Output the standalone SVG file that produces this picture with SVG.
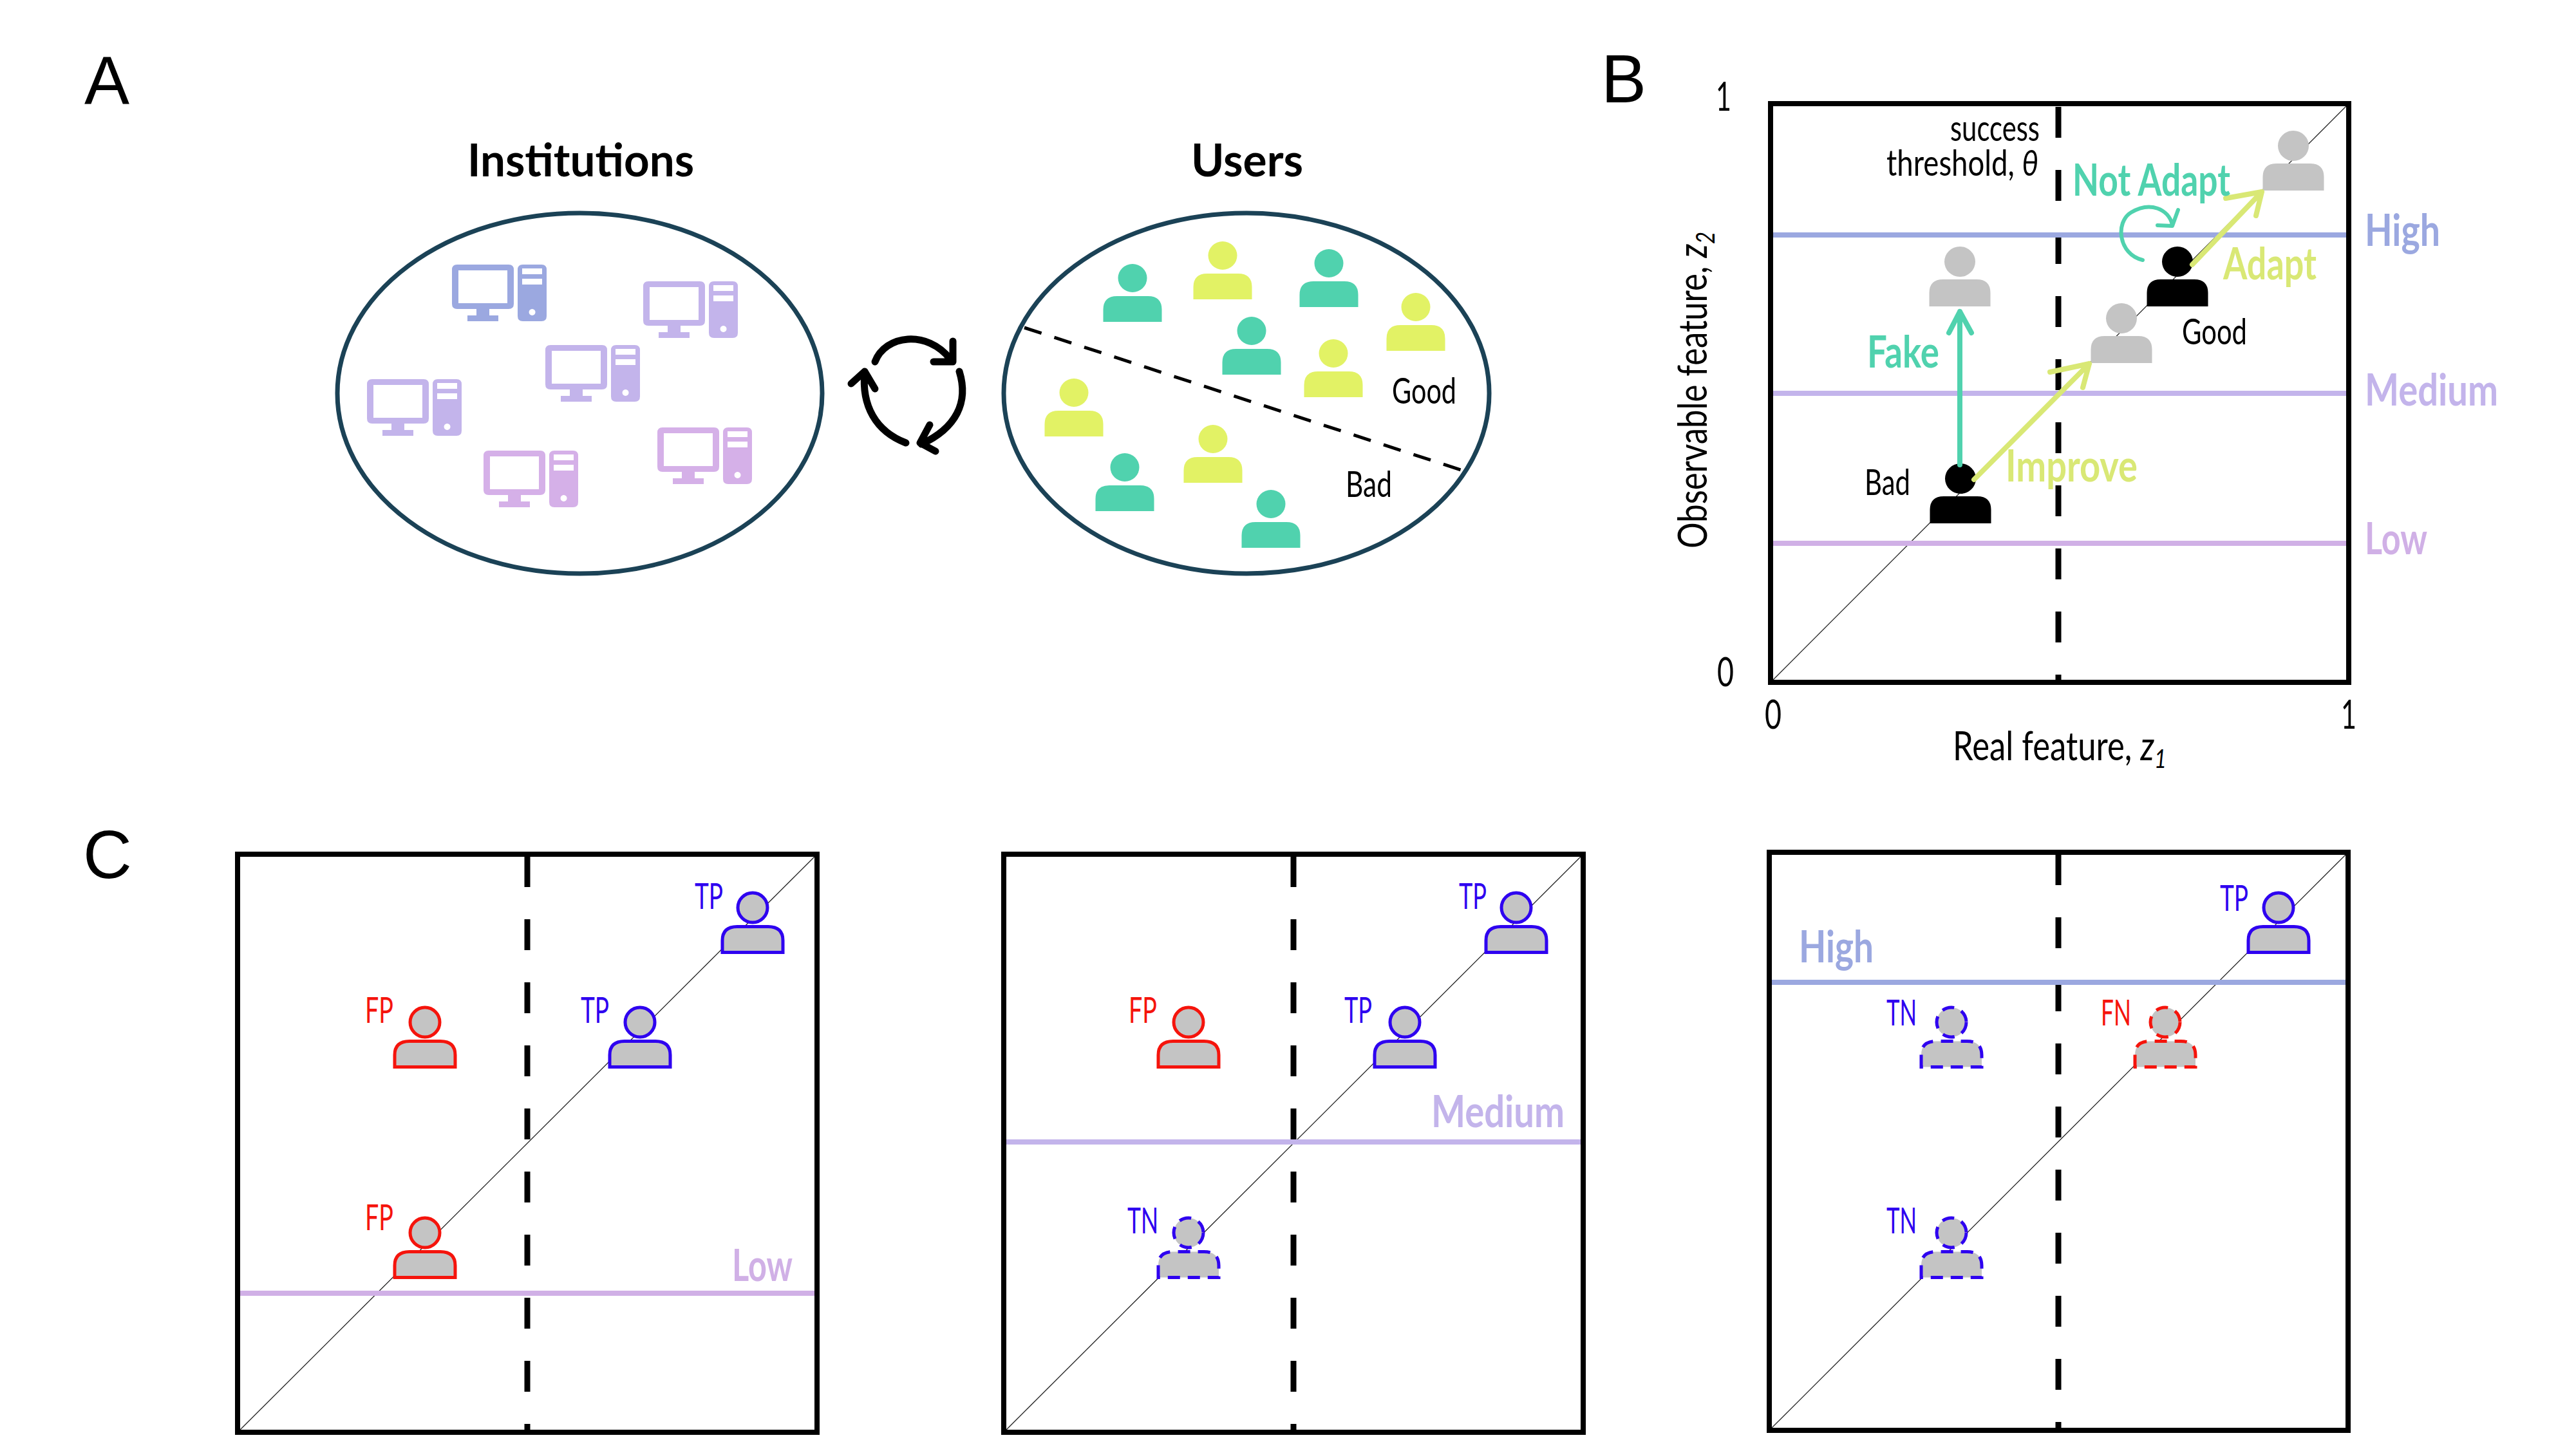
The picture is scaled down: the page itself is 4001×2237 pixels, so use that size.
<svg xmlns="http://www.w3.org/2000/svg" width="4001" height="2237" viewBox="0 0 4001 2237">
<style>
text{font-family:"Lato","Noto Sans","Liberation Sans",sans-serif;fill:#000}
.pl{font-family:"Liberation Sans",sans-serif;font-size:105px}
.h{font-size:70px;font-weight:700}
.s{font-size:56px}
.b{font-size:68px;font-weight:700}
.m{font-size:62px}
.c{font-size:57px}
.frame{fill:none;stroke:#000;stroke-width:8}
.diag{stroke:#222;stroke-width:1.3;fill:none}
.thr{stroke:#000;stroke-width:9;fill:none;stroke-dasharray:48 50}
.lh{stroke:#9BA8E0;stroke-width:8;fill:none}
.lm{stroke:#C3B4EB;stroke-width:8;fill:none}
.ll{stroke:#D0B0E6;stroke-width:8;fill:none}
.tg{fill:#50D2AE}.ty{fill:#D9E875}.th{fill:#9BA8E0}.tm{fill:#C3B4EB}.tl{fill:#D0B0E6}
.tb{fill:#2E00F0}.tr{fill:#F5140C}
.green{fill:#50D2AE}.yellow{fill:#E2F265}.black{fill:#000}.gray{fill:#C4C4C4}
.blue{fill:#C4C4C4;stroke:#2E00F0;stroke-width:5}
.red{fill:#C4C4C4;stroke:#F5140C;stroke-width:5}
.blued{fill:#C4C4C4;stroke:#2E00F0;stroke-width:5;stroke-dasharray:19 12}
.redd{fill:#C4C4C4;stroke:#F5140C;stroke-width:5;stroke-dasharray:19 12}
.ag{fill:none;stroke:#50D2AE;stroke-width:8;stroke-linecap:round;stroke-linejoin:round}
.ay{fill:none;stroke:#D9E875;stroke-width:8;stroke-linecap:round;stroke-linejoin:round}
.cyc{fill:none;stroke:#000;stroke-width:11;stroke-linecap:round;stroke-linejoin:round}
.ell{fill:#fff;stroke:#1B4256;stroke-width:7}
</style>
<defs>
<g id="pA"><ellipse cx="0" cy="22" rx="22.5" ry="22"/><path d="M-45.500 90V71Q-45.500 50-24 50H24Q45.500 50 45.500 71V90Z"/></g>
<g id="pB"><ellipse cx="0" cy="23.500" rx="24" ry="23.500"/><path d="M-47.500 93V72Q-47.500 51-26 51H26Q47.500 51 47.500 72V93Z"/></g>
<g id="pC"><circle cx="0" cy="25" r="23"/><path d="M-47 94.500V76Q-47 54.500-24 54.500H24Q47 54.500 47 76V94.500Z"/></g>
<path id="pc" fill-rule="evenodd" d="M8 0H88Q96 0 96 8V61Q96 69 88 69H58V79H72V88H24V79H38V69H8Q0 69 0 61V8Q0 0 8 0ZM10 9V60H86V9ZM110 0H139Q147 0 147 8V80Q147 88 139 88H110Q102 88 102 80V8Q102 0 110 0ZM109 6V15H140V6ZM109 22V31H140V22ZM124.500 69a5 5 0 1 0 .1 0Z"/>
</defs>

<g id="panel-labels">
<text class="pl" x="131" y="161">A</text>
<text class="pl" x="2487" y="159">B</text>
<text class="pl" x="129" y="1364">C</text>
</g>

<g id="institutions">
<ellipse class="ell" cx="900.500" cy="611" rx="376.500" ry="280"/>
<text class="h" x="726" y="274" textLength="352" lengthAdjust="spacingAndGlyphs">Institutions</text>
<g id="computer-1"><use href="#pc" x="702" y="411" fill="#9BA8E0"/></g>
<g id="computer-2"><use href="#pc" x="999" y="437" fill="#C3B4EB"/></g>
<g id="computer-3"><use href="#pc" x="847" y="536" fill="#C3B4EB"/></g>
<g id="computer-4"><use href="#pc" x="570" y="589" fill="#C3B4EB"/></g>
<g id="computer-5"><use href="#pc" x="751" y="700" fill="#D5B0E8"/></g>
<g id="computer-6"><use href="#pc" x="1021" y="664" fill="#D5B0E8"/></g>
</g>

<g id="users">
<ellipse class="ell" cx="1936" cy="611" rx="377" ry="280"/>
<text class="h" x="1850" y="274" textLength="174" lengthAdjust="spacingAndGlyphs">Users</text>
<g id="user-1"><use href="#pA" x="1759" y="410" class="green"/></g>
<g id="user-2"><use href="#pA" x="1899" y="375" class="yellow"/></g>
<g id="user-3"><use href="#pA" x="2064" y="387" class="green"/></g>
<g id="user-4"><use href="#pA" x="2199" y="455" class="yellow"/></g>
<g id="user-5"><use href="#pA" x="1944" y="492" class="green"/></g>
<g id="user-6"><use href="#pA" x="2071" y="527" class="yellow"/></g>
<g id="user-7"><use href="#pA" x="1668" y="588" class="yellow"/></g>
<g id="user-8"><use href="#pA" x="1747" y="704" class="green"/></g>
<g id="user-9"><use href="#pA" x="1884" y="660" class="yellow"/></g>
<g id="user-10"><use href="#pA" x="1974" y="761" class="green"/></g>
<path d="M1591 509L2269 730" fill="none" stroke="#000" stroke-width="5" stroke-dasharray="28 20.900"/>
<text class="s" x="2162" y="627" textLength="100" lengthAdjust="spacingAndGlyphs">Good</text>
<text class="s" x="2090" y="772" textLength="72" lengthAdjust="spacingAndGlyphs">Bad</text>
</g>

<g id="connectors">
<path class="cyc" d="M1359 562C1375 520 1440 512 1476 558M1480 530V562H1450"/>
<path class="cyc" d="M1490 577C1505 625 1485 665 1431 690M1444 660L1429 688L1453 701"/>
<path class="cyc" d="M1407 688C1360 670 1338 630 1343 578M1322 596L1343 577L1359 604"/>
</g>

<g id="panel-b">
<path class="diag" d="M2750 1060L3648 161"/>
<path class="thr" d="M3197 166V1060"/>
<path class="lh" d="M2754 365H3644"/>
<path class="lm" d="M2754 611H3644"/>
<path class="ll" d="M2754 844H3644"/>
<rect class="frame" x="2750" y="161" width="898" height="899"/>
<g id="b-ticks">
<text class="m" x="2665" y="172" textLength="24" lengthAdjust="spacingAndGlyphs">1</text>
<text class="m" x="2667" y="1066" textLength="26" lengthAdjust="spacingAndGlyphs">0</text>
<text class="m" x="2741" y="1132" textLength="26" lengthAdjust="spacingAndGlyphs">0</text>
<text class="m" x="3636" y="1132" textLength="24" lengthAdjust="spacingAndGlyphs">1</text>
<text class="m" x="3033" y="1181" textLength="332" lengthAdjust="spacingAndGlyphs">Real feature, <tspan font-style="italic">z</tspan><tspan font-style="italic" dy="12" font-size="40">1</tspan></text>
<text class="m" transform="translate(2651 852) rotate(-90)" textLength="492" lengthAdjust="spacingAndGlyphs">Observable feature, <tspan font-style="italic">z</tspan><tspan font-style="italic" dy="12" font-size="40">2</tspan></text>
<text class="s" x="3029" y="219" textLength="139" lengthAdjust="spacingAndGlyphs">success</text>
<text class="s" x="2930" y="273" textLength="236" lengthAdjust="spacingAndGlyphs">threshold, <tspan font-style="italic">θ</tspan></text>
<text class="b th" x="3673" y="382" textLength="117" lengthAdjust="spacingAndGlyphs">High</text>
<text class="b tm" x="3673" y="630" textLength="207" lengthAdjust="spacingAndGlyphs">Medium</text>
<text class="b tl" x="3673" y="861" textLength="97" lengthAdjust="spacingAndGlyphs">Low</text>
</g>
<g id="b-bad"><use href="#pB" x="3045" y="720" class="black"/></g>
<g id="b-fake"><use href="#pB" x="3044" y="383" class="gray"/></g>
<g id="b-improve"><use href="#pB" x="3295" y="471" class="gray"/></g>
<g id="b-good"><use href="#pB" x="3382" y="383" class="black"/></g>
<g id="b-adapt"><use href="#pB" x="3562" y="203" class="gray"/></g>
<g id="b-connectors">
<path class="ag" d="M3044 722V484M3027 517L3044 484L3062 517"/>
<path class="ay" d="M3066 745L3245 565M3184 578L3245 565L3235 602"/>
<path class="ay" d="M3405 411L3513 298M3457 308L3513 298L3504 335"/>
<path fill="none" stroke="#50D2AE" stroke-width="6" stroke-linecap="round" stroke-linejoin="round" d="M3328 404C3290 395 3285 345 3310 330C3340 312 3368 325 3374 349M3383 326L3374 351L3351 350"/>
</g>
<text class="b tg" x="3219" y="304" textLength="245" lengthAdjust="spacingAndGlyphs">Not Adapt</text>
<text class="b tg" x="2900" y="571" textLength="112" lengthAdjust="spacingAndGlyphs">Fake</text>
<text class="b ty" x="3115" y="748" textLength="205" lengthAdjust="spacingAndGlyphs">Improve</text>
<text class="b ty" x="3453" y="434" textLength="145" lengthAdjust="spacingAndGlyphs">Adapt</text>
<text class="s" x="2896" y="769" textLength="71" lengthAdjust="spacingAndGlyphs">Bad</text>
<text class="s" x="3389" y="535" textLength="101" lengthAdjust="spacingAndGlyphs">Good</text>
</g>

<g id="panel-c1">
<path class="diag" d="M369 2225L1269 1327"/>
<path class="thr" d="M819 1330V2225"/>
<path class="ll" d="M373 2009H1265"/>
<rect class="frame" x="369" y="1327" width="900" height="898"/>
<g id="c1-fp1"><use href="#pC" x="660" y="1563" class="red"/><text class="c tr" x="567" y="1589" textLength="44" lengthAdjust="spacingAndGlyphs">FP</text></g>
<g id="c1-tp1"><use href="#pC" x="994" y="1563" class="blue"/><text class="c tb" x="902" y="1589" textLength="44" lengthAdjust="spacingAndGlyphs">TP</text></g>
<g id="c1-tp2"><use href="#pC" x="1169" y="1385" class="blue"/><text class="c tb" x="1079" y="1412" textLength="44" lengthAdjust="spacingAndGlyphs">TP</text></g>
<g id="c1-fp2"><use href="#pC" x="660" y="1890" class="red"/><text class="c tr" x="567" y="1911" textLength="44" lengthAdjust="spacingAndGlyphs">FP</text></g>
<text class="b tl" x="1137" y="1990" textLength="94" lengthAdjust="spacingAndGlyphs">Low</text>
</g>

<g id="panel-c2">
<path class="diag" d="M1559 2225L2459 1327"/>
<path class="thr" d="M2009 1330V2225"/>
<path class="lm" d="M1563 1774H2455"/>
<rect class="frame" x="1559" y="1327" width="900" height="898"/>
<g id="c2-fp"><use href="#pC" x="1846" y="1563" class="red"/><text class="c tr" x="1753" y="1589" textLength="44" lengthAdjust="spacingAndGlyphs">FP</text></g>
<g id="c2-tp1"><use href="#pC" x="2182" y="1563" class="blue"/><text class="c tb" x="2088" y="1589" textLength="43" lengthAdjust="spacingAndGlyphs">TP</text></g>
<g id="c2-tp2"><use href="#pC" x="2355" y="1385" class="blue"/><text class="c tb" x="2266" y="1412" textLength="43" lengthAdjust="spacingAndGlyphs">TP</text></g>
<g id="c2-tn"><use href="#pC" x="1846" y="1890" class="blued"/><text class="c tb" x="1751" y="1916" textLength="48" lengthAdjust="spacingAndGlyphs">TN</text></g>
<text class="b tm" x="2223" y="1751" textLength="207" lengthAdjust="spacingAndGlyphs">Medium</text>
</g>

<g id="panel-c3">
<path class="diag" d="M2748 2222L3647 1324"/>
<path class="thr" d="M3197 1327V2222"/>
<path class="lh" d="M2752 1526H3643"/>
<rect class="frame" x="2748" y="1324" width="899" height="898"/>
<g id="c3-tp"><use href="#pC" x="3539" y="1385" class="blue"/><text class="c tb" x="3448" y="1415" textLength="44" lengthAdjust="spacingAndGlyphs">TP</text></g>
<g id="c3-tn1"><use href="#pC" x="3031" y="1563" class="blued"/><text class="c tb" x="2930" y="1593" textLength="47" lengthAdjust="spacingAndGlyphs">TN</text></g>
<g id="c3-fn"><use href="#pC" x="3363" y="1563" class="redd"/><text class="c tr" x="3263" y="1593" textLength="47" lengthAdjust="spacingAndGlyphs">FN</text></g>
<g id="c3-tn2"><use href="#pC" x="3031" y="1890" class="blued"/><text class="c tb" x="2930" y="1916" textLength="47" lengthAdjust="spacingAndGlyphs">TN</text></g>
<text class="b th" x="2794" y="1495" textLength="116" lengthAdjust="spacingAndGlyphs">High</text>
</g>
</svg>
